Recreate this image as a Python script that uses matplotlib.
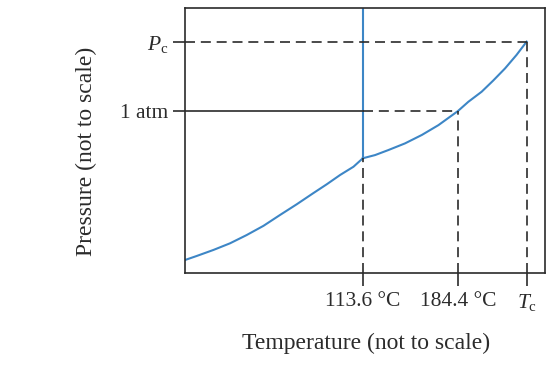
import matplotlib.pyplot as plt

plt.rcParams['font.family'] = ['Liberation Serif', 'DejaVu Serif']
plt.rcParams['mathtext.fontset'] = 'custom'
plt.rcParams['mathtext.rm'] = 'Liberation Serif'
plt.rcParams['mathtext.it'] = 'Liberation Serif:italic'

# positions on a 0-100 "not to scale" grid
t_solid = [0, 3.2, 7.9, 12.5, 17.1, 21.8, 26.4, 31.0, 35.6, 39.4, 43.1, 46.8, 49.4]
p_solid = [4.9, 6.4, 8.7, 11.2, 14.3, 17.8, 21.9, 25.9, 30.1, 33.5, 37.0, 40.1, 43.3]
t_liquid = [49.4, 52.8, 56.5, 61.1, 65.8, 70.4, 75.8, 78.7, 82.4, 85.6, 88.9, 92.1, 94.9]
p_liquid = [43.3, 44.5, 46.4, 48.9, 52.1, 55.8, 61.1, 64.6, 68.4, 72.6, 77.2, 82.3, 87.3]

t_melt = 49.4
t_boil = 75.8
t_crit = 94.9
p_atm = 61.1
p_crit = 87.3

xtick_labels = ['113.6 °C', '184.4 °C', r'$T_\mathrm{c}$']
ytick_labels = ['1 atm', r'$P_\mathrm{c}$']

blue = '#3d86c6'
dark = '#2b2b2b'
dash = (0, (6, 3.5))

fig = plt.figure(figsize=(5.57, 3.72), dpi=100)
ax = fig.add_axes([185 / 557, 1 - 273 / 372, 360 / 557, 265 / 372])
ax.set_xlim(0, 100)
ax.set_ylim(0, 100)

ax.plot(t_solid, p_solid, color=blue, lw=1.5, solid_joinstyle='round')
ax.plot(t_liquid, p_liquid, color=blue, lw=1.5, solid_joinstyle='round')
ax.plot([t_melt, t_melt], [p_solid[-1], 100], color=blue, lw=1.5)

ax.plot([0, t_melt], [p_atm, p_atm], color=dark, lw=1.2)
ax.plot([t_melt, t_boil], [p_atm, p_atm], color=dark, lw=1.2, linestyle=dash)
ax.plot([0, t_crit], [p_crit, p_crit], color=dark, lw=1.2, linestyle=dash)
ax.plot([t_melt, t_melt], [0, p_solid[-1]], color=dark, lw=1.2, linestyle=dash)
ax.plot([t_boil, t_boil], [0, p_atm], color=dark, lw=1.2, linestyle=dash)
ax.plot([t_crit, t_crit], [0, p_crit], color=dark, lw=1.2, linestyle=dash)

ax.set_xticks([t_melt, t_boil, t_crit])
ax.set_xticklabels(xtick_labels, fontsize=15.5)
ax.set_yticks([p_atm, p_crit])
ax.set_yticklabels(ytick_labels, fontsize=15.5)
ax.tick_params(direction='out', length=9, width=1.2, color=dark, labelcolor=dark)
ax.tick_params(axis='x', pad=5)
ax.tick_params(axis='y', pad=3)

for s in ax.spines.values():
    s.set_color(dark)
    s.set_linewidth(1.2)

ax.set_xlabel('Temperature (not to scale)', fontsize=17, color=dark)
ax.set_ylabel('Pressure (not to scale)', fontsize=17, color=dark)
ax.xaxis.set_label_coords(0.502, -0.225)
ax.yaxis.set_label_coords(-0.245, 0.46)

fig.savefig('out.png', dpi=100)
